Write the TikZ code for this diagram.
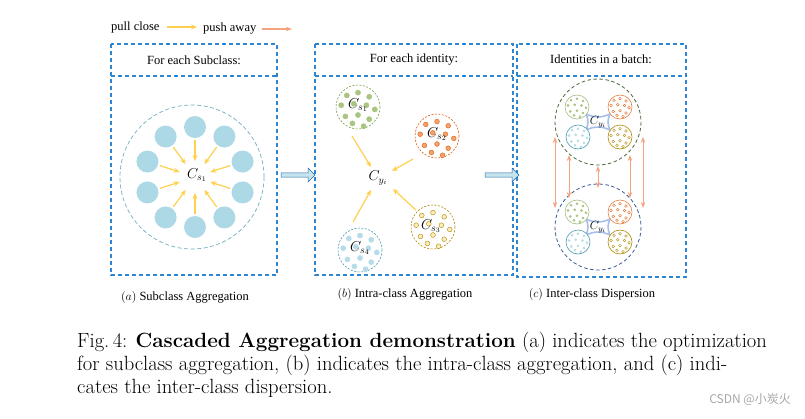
\documentclass[tikz,border=0pt]{standalone}
\usepackage{fontspec}
\newfontfamily\tms{Liberation Serif}
\usetikzlibrary{shapes.arrows,arrows.meta}
\definecolor{bbox}{HTML}{2E86D0}
\definecolor{pull}{HTML}{FFD04D}
\definecolor{push}{HTML}{F2A47E}
\definecolor{lb}{HTML}{ADD8E6}
\definecolor{gr}{HTML}{A9C47F}
\definecolor{grd}{HTML}{7F9F50}
\definecolor{org}{HTML}{F08A4B}
\definecolor{orgd}{HTML}{E06010}
\definecolor{yel}{HTML}{F0C020}
\definecolor{yeld}{HTML}{B08800}
\definecolor{cy}{HTML}{B5DCE8}
\definecolor{cyd}{HTML}{4A9AB0}
\definecolor{xb}{HTML}{A8BEEA}
\definecolor{tg}{HTML}{4A6A3A}
\definecolor{bb}{HTML}{3B5A9A}
\tikzset{
 panel/.style={draw=bbox,dashed,line width=1.1pt,dash pattern=on 4pt off 3pt},
 pullar/.style={draw=pull,line width=1.2pt,-{Stealth[length=6pt,width=5pt]}},
 pushar/.style={draw=push,line width=1pt,{Stealth[length=6pt,width=4.5pt]}-{Stealth[length=6pt,width=4.5pt]}},
 txt/.style={font=\tms\fontsize{12.5}{14}\selectfont,inner sep=0pt},
 lab/.style={inner sep=0pt,font=\fontsize{14}{16}\selectfont},
 blk/.style={single arrow,draw=bbox!80!black,fill=lb!70,minimum height=34pt,minimum width=14pt,single arrow head extend=3pt,inner sep=1pt,line width=0.6pt},
}
\newcommand{\dotsin}[6]{% x,y, scale, fill, draw, dot radius
 \foreach \a/\b in {-8/-9,0/-11,8/-8,-12/-2,-3/-3,6/-2,12/1,-9/6,0/5,8/8,-4/11,4/13}{
   \fill[#4,draw=#5,line width=0.4pt] (#1+\a*#3,#2+\b*#3) circle (#6);}}
\begin{document}
\begin{tikzpicture}[x=1pt,y=-1pt]
\useasboundingbox (0,0) rectangle (805,418);
% legend
\node[txt,anchor=west] (lp) at (111,27) {pull close};
\coordinate (lp1) at (167,27); \coordinate (lp2) at (197,27);
\draw[pullar] (lp1) -- (lp2);
\node[txt,anchor=west] (lq) at (203,29) {push away};
\coordinate (lq1) at (262,29); \coordinate (lq2) at (292,29);
\draw[draw=push,line width=1.1pt,-{Stealth[length=6pt,width=4.5pt]}] (lq1) -- (lq2);
% panels
\draw[panel] (111,44) rectangle (277,275); \draw[panel] (111,76) -- (277,76);
\draw[panel] (315,44) rectangle (513,275); \draw[panel] (315,76) -- (513,76);
\draw[panel] (517,44) rectangle (686,277); \draw[panel] (517,76) -- (686,76);
\node[txt] (ha) at (194,60) {For each Subclass:};
\node[txt] (hb) at (414,60) {For each identity:};
\node[txt] (hc) at (601,59) {Identities in a batch:};
\node[txt] (ca) at (185,297) {$(a)$ Subclass Aggregation};
\node[txt] (cb) at (405,294) {$(b)$ Intra-class Aggregation};
\node[txt] (cc) at (592,294) {$(c)$ Inter-class Dispersion};
% block arrows
\node[blk] (ba1) at (297,175) {};
\node[blk] (ba2) at (501,175) {};
% panel a
\draw[draw=cyd!80,dashed,line width=0.7pt,dash pattern=on 4pt off 2.5pt] (192,177) circle (72);
\node[lab] (cs) at (197,175) {$C_{s_1}$};
\foreach \k in {0,...,9}{
  \fill[lb] ({195+50*cos(90+36*\k)},{177-50*sin(90+36*\k)}) circle (11);
  \draw[pullar] ({195+37*cos(90+36*\k)},{177-37*sin(90+36*\k)}) -- ({195+16*cos(90+36*\k)},{177-16*sin(90+36*\k)});
}
% panel b
\node[lab] (cy) at (378,178) {$C_{y_i}$};
\draw[grd,dashed,line width=0.6pt,dash pattern=on 2pt off 1.5pt] (358,107) circle (22);
\dotsin{358}{108}{1.4}{gr}{gr}{2.6}
\node[lab] at (358,105) {$C_{s_1}$};
\draw[orgd,dashed,line width=0.6pt,dash pattern=on 2pt off 1.5pt] (437,136) circle (22);
\dotsin{437}{137}{1.4}{org!80}{orgd}{2.4}
\node[lab] at (437,134) {$C_{s_2}$};
\draw[yeld,dashed,line width=0.6pt,dash pattern=on 2pt off 1.5pt] (433,227) circle (22);
\dotsin{433}{228}{1.4}{yel!30}{yeld}{2.4}
\node[lab] at (431,226) {$C_{s_3}$};
\draw[cyd,dashed,line width=0.6pt,dash pattern=on 2pt off 1.5pt] (360,250) circle (22);
\dotsin{360}{251}{1.4}{cy}{cy}{2.6}
\node[lab] at (360,248) {$C_{s_4}$};
\draw[pullar] (352,136) -- (371,167);
\draw[pullar] (413,159) -- (392,171);
\draw[pullar] (416,210) -- (393,189);
\draw[pullar] (353,222) -- (371,190);
% panel c
\foreach \cy/\bc in {122/tg,227/bb}{
  \draw[\bc,dashed,line width=0.8pt,dash pattern=on 3.5pt off 2.5pt] (598,\cy) circle (43);
  \draw[xb,line width=1.6pt] (586,{\cy-8}) to[bend right=25] (610,{\cy-8}) to[bend right=25] (610,{\cy+8}) to[bend right=25] (586,{\cy+8}) to[bend right=25] cycle;
  \fill[white,draw=grd!70,line width=0.6pt] (577,{\cy-15}) circle (12);
  \dotsin{577}{\cy-15}{0.75}{gr}{gr}{1.1}
  \fill[white,draw=orgd!80,line width=0.6pt] (620,{\cy-15}) circle (12);
  \dotsin{620}{\cy-15}{0.75}{white}{orgd}{1.3}
  \fill[white,draw=cyd,line width=0.6pt] (578,{\cy+15}) circle (12);
  \dotsin{578}{\cy+15}{0.75}{cy}{cy}{1.1}
  \fill[white,draw=yeld,line width=0.6pt] (620,{\cy+15}) circle (12);
  \dotsin{620}{\cy+15}{0.75}{white}{yeld}{1.3}
  \node[inner sep=0pt,font=\fontsize{12}{14}\selectfont] at (598,\cy) {$C_{y_i}$};
}
\draw[pushar] (555,137) -- (555,208);
\draw[pushar] (569,155) -- (569,198);
\draw[pushar] (598,166) -- (598,188);
\draw[pushar] (630,155) -- (630,198);
\draw[pushar] (643,137) -- (643,208);
% caption
\begin{scope}[every node/.style={anchor=base west,inner sep=0pt,font=\fontsize{20.6}{23}\selectfont}]
\node (l1) at (77,347) {Fig.\,4: \textbf{Cascaded Aggregation demonstration} (a) indicates the optimization};
\node (l2) at (77,370) {for subclass aggregation, (b) indicates the intra-class aggregation, and (c) indi-};
\node (l3) at (77,393) {cates the inter-class dispersion.};
\end{scope}
\node[anchor=base east,inner sep=0pt,text=gray!70,font=\fontspec{Noto Sans CJK SC}\fontsize{12}{12}\selectfont] (wm) at (791,403) {CSDN @小炭火};
\end{tikzpicture}
\end{document}
